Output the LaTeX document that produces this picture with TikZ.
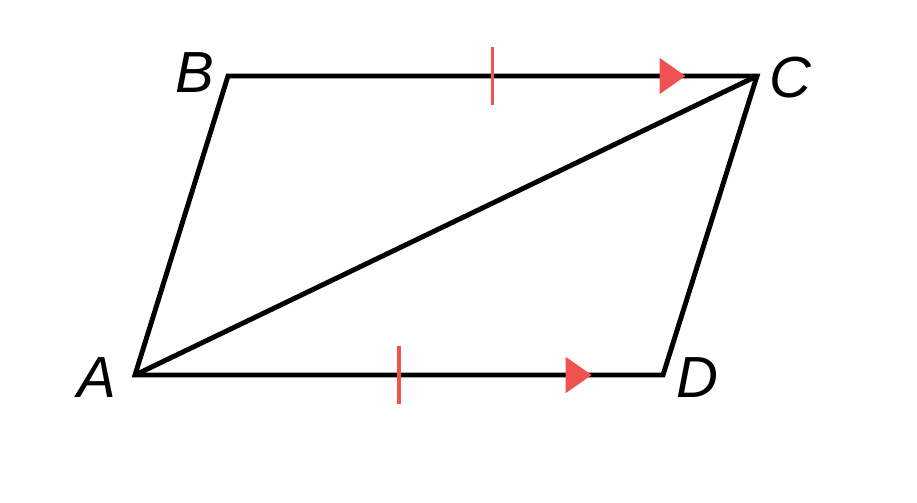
\documentclass[tikz,border=0pt]{standalone}
\usepackage{fontspec}
\setmainfont{Liberation Sans}
\usetikzlibrary{arrows.meta,decorations.markings}
\definecolor{marcatura}{RGB}{240,82,82}
\begin{document}
\begin{tikzpicture}[line width=2.8pt,line join=miter,
  lato/.style={draw=black},
  tacca/.style={postaction={decorate,decoration={markings,
    mark=at position 0.5 with {\draw[marcatura,line width=2pt] (0,-0.58) -- (0,0.58);},
    mark=at position 0.865 with {\arrow[marcatura]{Triangle[length=0.52cm,width=0.7cm]}}}}},
  vertice/.style={font=\fontsize{33}{38}\selectfont\itshape}]

\useasboundingbox (0,0) rectangle (18.34,10.04);

% --- Vertici del parallelogramma ---
\coordinate (A) at (2.70,2.54);
\coordinate (B) at (4.56,8.52);
\coordinate (C) at (15.14,8.52);
\coordinate (D) at (13.26,2.54);

% Etichette
\node[vertice] (lA) at (1.94,2.48) {A};
\node[vertice] (lB) at (3.90,8.58) {B};
\node[vertice] (lC) at (15.80,8.48) {C};
\node[vertice] (lD) at (13.94,2.48) {D};

% Lati e diagonale
\draw[lato] (A) -- (B) -- (C) -- (D) -- cycle;
\draw[lato] (A) -- (C);

% Lati paralleli e congruenti
\path[tacca] (B) -- (C);
\path[tacca] (A) -- (D);

\end{tikzpicture}
\end{document}
